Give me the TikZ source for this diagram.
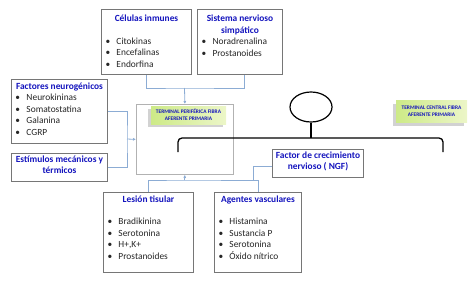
\documentclass[tikz,border=0pt]{standalone}
\usepackage{fontspec}
\setmainfont{Carlito}
\usepackage{xcolor}
\usetikzlibrary{arrows.meta,positioning,shapes.geometric,shadows}
\definecolor{ttlblue}{RGB}{20,20,190}
\definecolor{linkblue}{RGB}{140,172,212}
\definecolor{boxgray}{RGB}{118,118,118}
\definecolor{lblgreen}{RGB}{205,234,135}
\definecolor{lblpale}{RGB}{236,246,200}
\newcommand{\tbox}[3]{\parbox[c][#2][t]{#1}{#3}}
\newcommand{\ttl}[1]{{\centering\bfseries\textcolor{ttlblue}{#1}\par}}
\newcommand{\itm}[1]{\hspace*{4pt}\makebox[11pt][l]{\textbullet}#1\par}
\tikzset{
  fbox/.style={draw=boxgray, line width=1pt, fill=white, inner sep=0pt, font=\fontsize{9.4}{11.5}\selectfont, text=black!85},
  tbord/.style={draw=black!30, line width=0.8pt, inner sep=0pt},
  lbl/.style={left color=lblgreen, right color=lblpale, align=center, inner sep=1pt, font=\fontsize{5.4}{7}\selectfont\bfseries, text=ttlblue, drop shadow={shadow xshift=-3pt, shadow yshift=-3pt, fill=black!35}},
  link/.style={draw=linkblue, line width=0.8pt},
  larr/.style={link, -{Latex[length=3pt,width=3pt]}},
  brk/.style={draw=black, line width=1.3pt, rounded corners=4pt}
}
\begin{document}
\begin{tikzpicture}[x=1pt,y=-1pt]
\useasboundingbox (0,0) rectangle (474,284);
\node[fbox, anchor=north west] (b1) at (101,9) {\tbox{90pt}{65pt}{\vspace*{5.5pt}\ttl{Células inmunes}\vspace{11pt}\itm{Citokinas}\itm{Encefalinas}\itm{Endorfina}}};
\node[fbox, right=5pt of b1] (b2) {\tbox{85pt}{65pt}{\vspace*{5.5pt}\ttl{Sistema nervioso\\simpático}\itm{Noradrenalina}\itm{Prostanoides}}};
\node[fbox, anchor=north west] (b3) at (11,79) {\tbox{96pt}{64pt}{\vspace*{3pt}\ttl{Factores neurogénicos}\itm{Neurokininas}\itm{Somatostatina}\itm{Galanina}\itm{CGRP}}};
\node[fbox, below=9pt of b3] (b4) {\tbox{96pt}{28pt}{\vspace*{2pt}\ttl{Estímulos mecánicos y\\térmicos}}};
\node[tbord, anchor=north west, minimum width=97pt, minimum height=70pt] (b5) at (136,104) {};
\node[fbox, anchor=north west] (b6) at (272,149) {\tbox{91pt}{28pt}{\vspace*{2pt}\ttl{Factor de crecimiento\\nervioso ( NGF)}}};
\node[fbox, anchor=north west] (b7) at (103,192) {\tbox{90pt}{80pt}{\vspace*{3pt}\ttl{Lesión tisular}\vspace{11pt}\itm{Bradikinina}\itm{Serotonina}\itm{H+,K+}\itm{Prostanoides}}};
\node[fbox, right=20pt of b7] (b8) {\tbox{87pt}{80pt}{\vspace*{3pt}\ttl{Agentes vasculares}\vspace{11pt}\itm{Histamina}\itm{Sustancia P}\itm{Serotonina}\itm{Óxido nítrico}}};
\node[lbl, minimum width=75pt, minimum height=18pt] (t1) at (188.5,115) {TERMINAL PERIFÉRICA  FIBRA\\AFERENTE PRIMARIA};
\node[lbl, minimum width=71pt, minimum height=22pt] (t2) at (431.5,111.5) {TERMINAL CENTRAL  FIBRA\\AFERENTE PRIMARIA};
\node[ellipse, draw=black, line width=1.2pt, minimum width=42pt, minimum height=30pt] (s1) at (311,107) {};
% connectors
\coordinate (jt) at (184.5,88);
\coordinate (jl) at (127,139);
\coordinate (jb) at (184.5,180);
\coordinate (jf) at (253,180);
\draw[link] (b1.south) |- (jt) -| ([xshift=4pt]b2.south);
\draw[larr] (jt) -- (b5.north);
\draw[link] (b3.east) -| (jl) |- (b4.east);
\draw[larr] (jl) -- (b5.west);
\draw[link] (b7.north) |- (jb) -| (b8.north);
\draw[larr] (jb) -- (b5.south);
\draw[link] ([yshift=-3pt]b6.west) -| (jf);
% fibre
\coordinate (k1) at (178,152);
\coordinate (k2) at (178,138);
\coordinate (k3) at (443,138);
\coordinate (k4) at (443,152);
\draw[brk] (k1) -- (k2) -- (k3) -- (k4);
\draw[brk] (s1.south) -- (s1.south |- k2);
\end{tikzpicture}
\end{document}
